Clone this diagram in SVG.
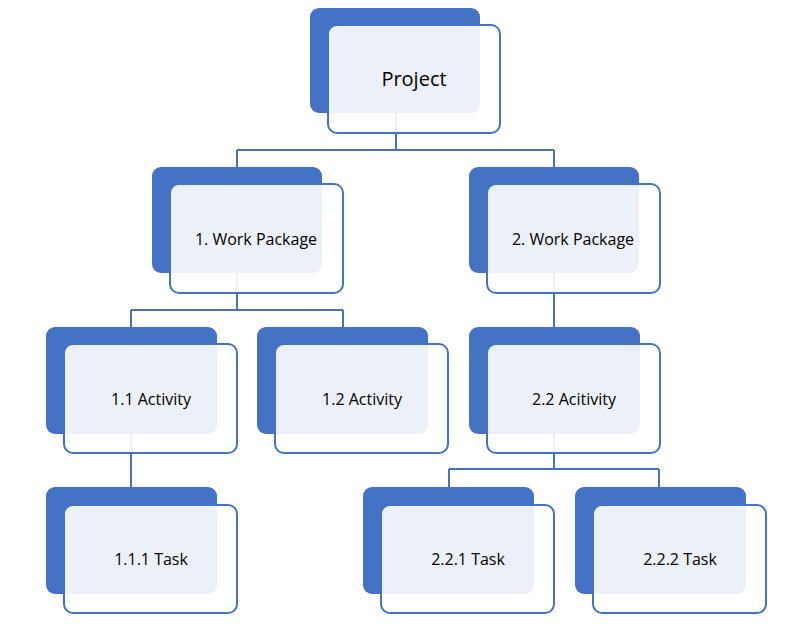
<svg xmlns="http://www.w3.org/2000/svg" width="793" height="628" viewBox="0 0 793 628">
<style>
.b{fill:#4472C4}
.f{fill:#fff;fill-opacity:0.9;stroke:#4472C4;stroke-width:2}
.c{fill:none;stroke:#4472C4;stroke-width:2}
text{font-family:"Open Sans","Noto Sans",sans-serif;font-size:16px;fill:#000;text-anchor:middle;dominant-baseline:central}
</style>
<rect width="793" height="628" fill="#fff"/>
<g id="connectors">
<path class="c" d="M396 113V150M237 150H554M237 150V167M554 150V167"/>
<path class="c" d="M237 273V310M131 310H343M131 310V327M343 310V327"/>
<path class="c" d="M554 273V327"/>
<path class="c" d="M131 433V487"/>
<path class="c" d="M554 433V469M449 469H659M449 469V487M659 469V487"/>
</g>
<g id="project"><rect class="b" x="310" y="8" width="170" height="105" rx="9"/><rect class="f" x="328" y="25" width="172" height="108" rx="9"/><text x="414" y="78" style="font-size:20px">Project</text></g>
<g id="wp1"><rect class="b" x="152" y="167" width="170" height="106" rx="9"/><rect class="f" x="170" y="184" width="173" height="109" rx="9"/><text x="256" y="239">1. Work Package</text></g>
<g id="wp2"><rect class="b" x="469" y="167" width="170" height="106" rx="9"/><rect class="f" x="487" y="184" width="173" height="109" rx="9"/><text x="573" y="239">2. Work Package</text></g>
<g id="a11"><rect class="b" x="46" y="327" width="171" height="107" rx="9"/><rect class="f" x="64" y="344" width="173" height="109" rx="9"/><text x="151" y="399">1.1 Activity</text></g>
<g id="a12"><rect class="b" x="257" y="327" width="171" height="107" rx="9"/><rect class="f" x="275" y="344" width="173" height="109" rx="9"/><text x="362" y="399">1.2 Activity</text></g>
<g id="a22"><rect class="b" x="469" y="327" width="171" height="107" rx="9"/><rect class="f" x="487" y="344" width="173" height="109" rx="9"/><text x="574" y="399">2.2 Acitivity</text></g>
<g id="t111"><rect class="b" x="46" y="487" width="171" height="107" rx="9"/><rect class="f" x="64" y="505" width="173" height="108" rx="9"/><text x="151" y="559">1.1.1 Task</text></g>
<g id="t221"><rect class="b" x="363" y="487" width="171" height="107" rx="9"/><rect class="f" x="381" y="505" width="173" height="108" rx="9"/><text x="468" y="559">2.2.1 Task</text></g>
<g id="t222"><rect class="b" x="575" y="487" width="171" height="107" rx="9"/><rect class="f" x="593" y="505" width="173" height="108" rx="9"/><text x="680" y="559">2.2.2 Task</text></g>
</svg>
